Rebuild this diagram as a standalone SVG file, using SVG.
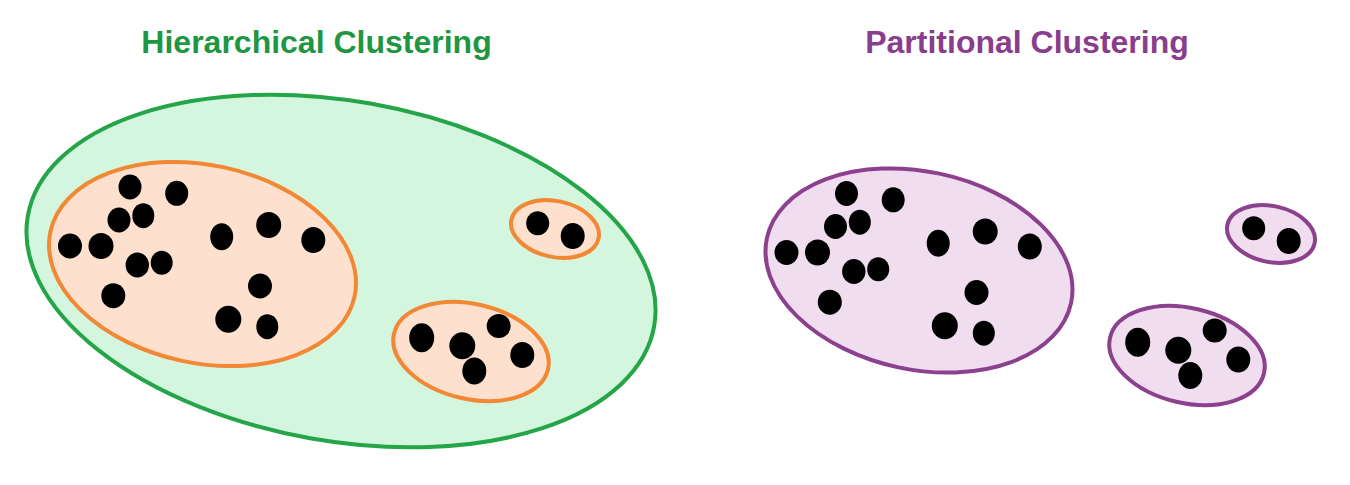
<svg xmlns="http://www.w3.org/2000/svg" width="1350" height="485" viewBox="0 0 1350 485">
<style>
.title{font-family:"Liberation Sans",Arial,sans-serif;font-weight:bold;font-size:32px;text-anchor:middle}
.g{fill:#d4f6de;stroke:#24a548;stroke-width:4}
.o{fill:#fde0cd;stroke:#f28734;stroke-width:4}
.p{fill:#f0ddf0;stroke:#8c418e;stroke-width:4}
.d{fill:#000}
</style>
<defs>
<g id="bigdots">
<ellipse class="d" cx="130" cy="187" rx="11.5" ry="12.5"/>
<ellipse class="d" cx="176.7" cy="193.3" rx="11.5" ry="12.5"/>
<ellipse class="d" cx="119" cy="220" rx="11.5" ry="12.5"/>
<ellipse class="d" cx="143.3" cy="215.7" rx="11" ry="12.5"/>
<ellipse class="d" cx="70" cy="246" rx="12" ry="12.5"/>
<ellipse class="d" cx="101" cy="246" rx="12.5" ry="13"/>
<ellipse class="d" cx="137.3" cy="265" rx="11.7" ry="12.5"/>
<ellipse class="d" cx="161.7" cy="262.7" rx="11" ry="12"/>
<ellipse class="d" cx="113.3" cy="295.7" rx="12" ry="12.5"/>
<ellipse class="d" cx="221.7" cy="236.7" rx="11.5" ry="13.5"/>
<ellipse class="d" cx="268.7" cy="225" rx="12.5" ry="13"/>
<ellipse class="d" cx="313.3" cy="240" rx="12" ry="13"/>
<ellipse class="d" cx="260" cy="286" rx="12" ry="12.5"/>
<ellipse class="d" cx="228.3" cy="319.3" rx="13" ry="13.5"/>
<ellipse class="d" cx="267.3" cy="326.7" rx="11" ry="12.5"/>
</g>
<g id="smalldots">
<ellipse class="d" cx="537.7" cy="223.3" rx="11.5" ry="12"/>
<ellipse class="d" cx="572.7" cy="236" rx="12" ry="13"/>
</g>
<g id="lowdots">
<ellipse class="d" cx="421.7" cy="337.7" rx="12.5" ry="14.5"/>
<ellipse class="d" cx="462.3" cy="345.7" rx="13" ry="13.5"/>
<ellipse class="d" cx="498.7" cy="326" rx="12" ry="12"/>
<ellipse class="d" cx="522.3" cy="355" rx="12" ry="13"/>
<ellipse class="d" cx="474.3" cy="371" rx="12" ry="13.5"/>
</g>
</defs>
<g id="hierarchical">
<text class="title" x="316.5" y="53" fill="#1f9641">Hierarchical Clustering</text>
<g id="h-outer">
<ellipse class="g" cx="341" cy="271" rx="318" ry="170" transform="rotate(10 341 271)"/>
</g>
<g id="h-cluster-1">
<ellipse class="o" cx="202.5" cy="264" rx="155.5" ry="99" transform="rotate(12 202.5 264)"/>
<use href="#bigdots"/>
</g>
<g id="h-cluster-2">
<ellipse class="o" cx="555" cy="229" rx="44.6" ry="28" transform="rotate(12 555 229)"/>
<use href="#smalldots"/>
</g>
<g id="h-cluster-3">
<ellipse class="o" cx="471" cy="351.5" rx="79" ry="47.5" transform="rotate(13 471 351.5)"/>
<use href="#lowdots"/>
</g>
</g>
<g id="partitional">
<text class="title" x="1027" y="53" fill="#8a3d8c">Partitional Clustering</text>
<g id="p-cluster-1">
<ellipse class="p" cx="919" cy="270.5" rx="155.5" ry="99" transform="rotate(12 919 270.5)"/>
<use href="#bigdots" transform="translate(716.5 6.5)"/>
</g>
<g id="p-cluster-2">
<ellipse class="p" cx="1271" cy="234" rx="44.6" ry="28" transform="rotate(12 1271 234)"/>
<use href="#smalldots" transform="translate(716 5)"/>
</g>
<g id="p-cluster-3">
<ellipse class="p" cx="1187" cy="355.5" rx="79" ry="47.5" transform="rotate(13 1187 355.5)"/>
<use href="#lowdots" transform="translate(716 4.5)"/>
</g>
</g>
<g id="connectors"/>
</svg>
